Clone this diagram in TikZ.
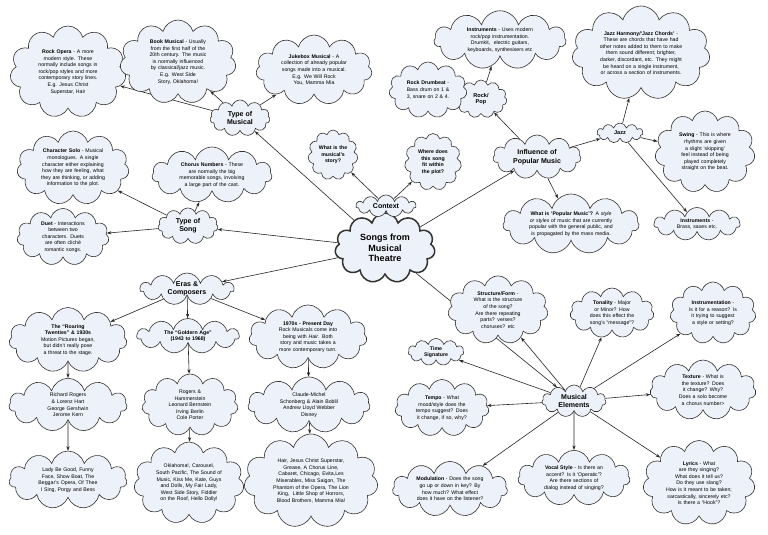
\documentclass[tikz,border=0pt]{standalone}
\usepackage{fontspec}
\setmainfont{Liberation Sans}
\usetikzlibrary{shapes.symbols,arrows.meta,backgrounds}
\definecolor{cloudfill}{HTML}{EDF1F9}
\newcommand{\nohy}{\hyphenpenalty=10000\relax\exhyphenpenalty=10000\relax}
\tikzset{
  cl/.style={cloud, cloud puffs=11, cloud ignores aspect, draw=black!80, line width=0.6pt, fill=cloudfill, inner sep=0pt, align=center, font=\fontsize{5.2}{6.6}\selectfont\nohy},
  hub/.style={cl, font=\bfseries\fontsize{7}{8.4}\selectfont\nohy},
  edge/.style={-{Stealth[length=4.5pt,width=3.2pt]}, line width=0.6pt, black!85}
}
\begin{document}
\begin{tikzpicture}[x=1pt,y=-1pt]
\useasboundingbox (0,0) rectangle (768,535);
% central
\node[cl, line width=1.5pt, minimum width=100pt, minimum height=70pt, font=\bfseries\fontsize{9}{10.5}\selectfont] (c) at (385,248) {Songs from\\Musical\\Theatre};
% hubs
\node[hub, minimum width=60pt, minimum height=36pt] (tmus) at (240,118) {Type of\\Musical};
\node[hub, minimum width=60pt, minimum height=36pt] (tsong) at (188,226) {Type of\\Song};
\node[hub, minimum width=60pt, minimum height=22pt] (ctx) at (386,206) {Context};
\node[hub, minimum width=88pt, minimum height=44pt] (infl) at (537,157) {Influence of\\Popular Music};
\node[hub, minimum width=94pt, minimum height=32pt] (eras) at (187,289) {Eras \&\\Composers};
\node[hub, minimum width=64pt, minimum height=32pt] (mel) at (574,401) {Musical\\Elements};
\node[hub, minimum width=52pt, minimum height=38pt, font=\bfseries\fontsize{5.6}{6.8}\selectfont] (rp) at (481,99) {Rock/\\Pop};
\node[hub, minimum width=46pt, minimum height=20pt, font=\bfseries\fontsize{5.6}{6.8}\selectfont] (jazz) at (620,133) {Jazz};
% type of musical
\node[cl, minimum width=116pt, minimum height=92pt, text width=64pt] (rop) at (68,72) {\textbf{Rock Opera} - A more modern style. These normally include songs in rock/pop styles and more contemporary story lines.\\E.g. Jesus Christ Superstar, Hair};
\node[cl, minimum width=116pt, minimum height=84pt, text width=66pt] (book) at (178,62) {\textbf{Book Musical} - Usually from the first half of the 20th century. The music is normally influenced by classical/jazz music.\\E.g. West Side Story, Oklahoma!};
\node[cl, minimum width=116pt, minimum height=70pt, text width=66pt] (juke) at (314,70) {\textbf{Jukebox Musical} - A collection of already popular songs made into a musical.\\E.g. We Will Rock You, Mamma Mia};
% type of song
\node[cl, minimum width=112pt, minimum height=74pt, text width=68pt] (solo) at (73,168) {\textbf{Character Solo} - Musical monologues. A single character either explaining how they are feeling, what they are thinking, or adding information to the plot.};
\node[cl, minimum width=120pt, minimum height=56pt, text width=72pt] (chor) at (212,175) {\textbf{Chorus Numbers} - These are normally the big memorable songs, involving a large part of the cast.};
\node[cl, minimum width=92pt, minimum height=56pt, text width=48pt] (duet) at (63,237) {\textbf{Duet} - Interactions between two characters. Duets are often cliché romantic songs.};
% context
\node[cl, minimum width=50pt, minimum height=50pt, text width=32pt, font=\bfseries\fontsize{5.2}{6.6}\selectfont\nohy] (story) at (333,155) {What is the musical's story?};
\node[cl, minimum width=57pt, minimum height=57pt, text width=34pt, font=\bfseries\fontsize{5.2}{6.6}\selectfont\nohy] (where) at (433,162) {Where does this song fit within the plot?};
% popular music
\node[cl, minimum width=132pt, minimum height=56pt, text width=82pt] (ins1) at (500,40) {\textbf{Instruments} - Uses modern rock/pop instrumentation. Drumkit,\ \ electric guitars, keyboards, synthesisers etc};
\node[cl, minimum width=78pt, minimum height=56pt, text width=44pt] (drum) at (428,90) {\textbf{Rock Drumbeat} -\\Bass drum on 1 \& 3, snare on 2 \& 4.};
\node[cl, minimum width=138pt, minimum height=94pt, text width=86pt] (harm) at (641,53) {\textbf{Jazz Harmony/‘Jazz Chords’} - These are chords that have had other notes added to them to make them sound different; brighter, darker, discordant, etc. They might be heard on a single instrument, or across a section of instruments.};
\node[cl, minimum width=100pt, minimum height=82pt, text width=54pt] (swing) at (705,152) {\textbf{Swing} - This is where rhythms are given a slight ‘skipping’ feel instead of being played completely straight on the beat.};
\node[cl, minimum width=86pt, minimum height=27pt, text width=60pt] (ins2) at (697,224) {\textbf{Instruments} -\\Brass, saxes etc.};
\node[cl, minimum width=136pt, minimum height=60pt, text width=84pt] (popq) at (571,224) {\textbf{What is ‘Popular Music’?} A \textit{style or styles} of music that are currently popular with the general public, and is propagated by the mass media.};
% eras
\node[cl, minimum width=118pt, minimum height=54pt, text width=74pt] (roar) at (68,340) {\textbf{The “Roaring Twenties” \& 1930s}\\Motion Pictures began, but didn't really pose a threat to the stage.};
\node[cl, minimum width=102pt, minimum height=27pt, text width=64pt] (gold) at (188,336) {\textbf{The “Goldern Age” (1943 to 1968)}};
\node[cl, minimum width=118pt, minimum height=60pt, text width=72pt] (sev) at (308,337) {\textbf{1970s - Present Day}\\Rock Musicals come into being with \textit{Hair}. Both story and music takes a more contemporary turn.};
\node[cl, minimum width=118pt, minimum height=48pt, text width=70pt] (rich) at (68,405) {Richard Rogers \& Lorenz Hart\\George Gershwin\\Jerome Kern};
\node[cl, minimum width=96pt, minimum height=62pt, text width=54pt] (rog) at (190,405) {Rogers \&\\Hammerstein\\Leonard Bernstein\\Irving Berlin\\Cole Porter};
\node[cl, minimum width=122pt, minimum height=48pt, text width=74pt] (claude) at (309,405) {Claude-Michel Schonberg \& Alain Boblil\\Andrew Lloyd Webber\\Disney};
\node[cl, minimum width=118pt, minimum height=58pt, text width=68pt] (lady) at (68,480) {Lady Be Good, Funny Face, Show Boat, The Beggar's Opera, Of Thee I Sing, Porgy and Bess};
\node[cl, minimum width=110pt, minimum height=82pt, text width=66pt] (okla) at (189,483) {Oklahoma!, Carousel, South Pacific, The Sound of Music, Kiss Me, Kate, Guys and Dolls, My Fair Lady, West Side Story, Fiddler on the Roof, Hello Dolly!};
\node[cl, minimum width=134pt, minimum height=94pt, text width=78pt] (hair) at (311,481) {Hair, Jesus Christ Superstar, Grease, A Chorus Line, Cabaret, Chicago, Evita,Les Miserables, Miss Saigon, The Phantom of the Opera, The Lion King,\ \ Little Shop of Horrors,\ \ Blood Brothers, Mamma Mia!};
% musical elements
\node[cl, minimum width=100pt, minimum height=68pt, text width=60pt] (struct) at (498,310) {\textbf{Structure/Form} - What is the structure of the song?\\Are there repeating parts? verses? choruses? etc};
\node[cl, minimum width=56pt, minimum height=27pt, text width=36pt, font=\bfseries\fontsize{5.2}{6.6}\selectfont\nohy] (tsig) at (436,352) {Time Signature};
\node[cl, minimum width=84pt, minimum height=46pt, text width=54pt] (tonal) at (612,313) {\textbf{Tonality} - Major or Minor? How does this effect the song's “message”?};
\node[cl, minimum width=86pt, minimum height=62pt, text width=54pt] (instrn) at (713,313) {\textbf{Instrumentation} - Is it for a reason? Is it trying to suggest a style or setting?};
\node[cl, minimum width=106pt, minimum height=56pt, text width=62pt] (text) at (703,390) {\textbf{Texture} - What is the texture? Does it change? Why? Does a solo become a chorus number>};
\node[cl, minimum width=94pt, minimum height=57pt, text width=54pt] (tempo) at (442,408) {\textbf{Tempo} - What mood/style does the tempo suggest? Does it change, if so, why?};
\node[cl, minimum width=115pt, minimum height=50pt, text width=76pt] (modul) at (450,489) {\textbf{Modulation} - Does the song go up or down in key? By how much? What effect does it have on the listener?};
\node[cl, minimum width=112pt, minimum height=48pt, text width=72pt] (vocal) at (574,478) {\textbf{Vocal Style} - Is there an accent? Is it ‘Operatic’? Are there sections of dialog instead of singing?};
\node[cl, minimum width=112pt, minimum height=85pt, text width=66pt] (lyr) at (699,483) {\textbf{Lyrics} - What are they singing?\\What does it tell us?\\Do they use slang?\\How is it meant to be taken; sarcastically, sincerely etc?\\Is there a “Hook”?};
\begin{scope}[on background layer]
\fill[white] (0,0) rectangle (768,535);
\foreach \a/\b in {c/tmus,c/tsong,c/ctx,c/infl,c/eras,c/mel,
 tmus/rop,tmus/book,tmus/juke,tsong/solo,tsong/chor,tsong/duet,
 ctx/story,ctx/where,infl/rp,infl/jazz,infl/popq,rp/ins1,rp/drum,
 jazz/harm,jazz/swing,jazz/ins2,eras/roar,eras/gold,eras/sev,
 roar/rich,rich/lady,gold/rog,rog/okla,sev/claude,claude/hair,
 mel/struct,mel/tsig,mel/tonal,mel/instrn,mel/text,mel/tempo,mel/modul,mel/vocal,mel/lyr}
 \draw[edge] (\a) -- (\b);
\end{scope}
\end{tikzpicture}
\end{document}
